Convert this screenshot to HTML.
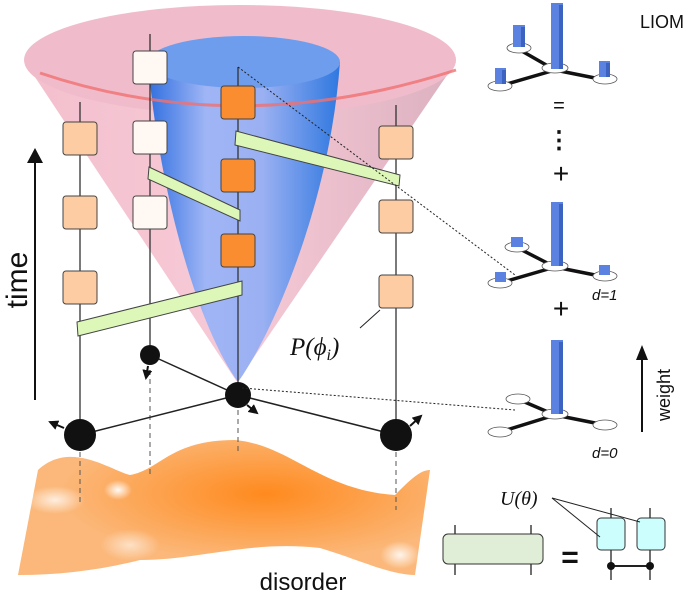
<!DOCTYPE html>
<html><head><meta charset="utf-8"><style>html,body{margin:0;padding:0;background:#fff}svg{display:block}</style></head>
<body>
<svg width="685" height="599" viewBox="0 0 685 599" xmlns="http://www.w3.org/2000/svg" font-family="Liberation Sans, sans-serif">
<defs>
<linearGradient id="bl" x1="0" x2="1" y1="0" y2="0"><stop offset="0" stop-color="#2f6fe0"/><stop offset="0.3" stop-color="#9fb5f5"/><stop offset="0.6" stop-color="#9ab0f2"/><stop offset="1" stop-color="#2f78e0"/></linearGradient>
<linearGradient id="pk" x1="0" x2="1"><stop offset="0" stop-color="#f2b8c8"/><stop offset="0.5" stop-color="#f6c4d2"/><stop offset="1" stop-color="#d8a8b8"/></linearGradient>
<radialGradient id="or1" cx="0.6" cy="0.4" r="0.5"><stop offset="0" stop-color="#ff8a1e"/><stop offset="1" stop-color="#fbb87a"/></radialGradient>
<radialGradient id="wh"><stop offset="0" stop-color="#fff" stop-opacity="0.95"/><stop offset="1" stop-color="#fff" stop-opacity="0"/></radialGradient>
<marker id="ah" viewBox="0 0 10 10" refX="8" refY="5" markerWidth="5" markerHeight="5" orient="auto"><path d="M0,0L10,5L0,10z" fill="#111"/></marker>
</defs>
<path d="M25,62 L237,382 L456,62 Z" fill="url(#pk)" opacity="0.9"/>
<ellipse cx="240" cy="60" rx="216" ry="55" fill="#f0bccb"/>
<path d="M148,62 C160,200 200,330 238,382 C275,330 330,200 340,62 Z" fill="url(#bl)"/>
<ellipse cx="244" cy="62" rx="96" ry="26" fill="#6f9ded"/>
<path d="M40,73 Q240,140 456,70" stroke="#f07070" stroke-width="3" fill="none" opacity="0.8"/>
<path d="M38,470 C70,440 110,470 130,475 C160,470 170,440 235,440 C290,445 320,490 395,495 C410,480 420,470 430,470 L415,575 C390,575 360,560 320,548 C250,540 200,560 140,560 C100,570 60,575 18,575 Z" fill="url(#or1)"/>
<ellipse cx="55" cy="500" rx="30" ry="14" fill="url(#wh)" opacity="0.8"/>
<ellipse cx="118" cy="490" rx="14" ry="10" fill="url(#wh)"/>
<ellipse cx="130" cy="545" rx="30" ry="16" fill="url(#wh)" opacity="0.6"/>
<ellipse cx="300" cy="555" rx="25" ry="10" fill="url(#wh)" opacity="0.5"/>
<ellipse cx="400" cy="555" rx="20" ry="14" fill="url(#wh)" opacity="0.9"/>
<text x="303" y="590" font-size="24" text-anchor="middle" fill="#111">disorder</text>
<g stroke="#555" stroke-dasharray="5,4" stroke-width="1"><line x1="80" y1="452" x2="80" y2="505"/><line x1="150" y1="370" x2="150" y2="475"/><line x1="238" y1="410" x2="238" y2="455"/><line x1="396" y1="452" x2="396" y2="510"/></g>
<g stroke="#333" stroke-width="1.3"><line x1="80" y1="102" x2="80" y2="420"/><line x1="150" y1="34" x2="150" y2="345"/><line x1="238" y1="67" x2="238" y2="390"/><line x1="396" y1="105" x2="396" y2="420"/></g>
<g stroke="#444" stroke-width="1">
<rect x="63" y="122" width="34" height="33" rx="3" fill="#fdcca3"/><rect x="63" y="196" width="34" height="33" rx="3" fill="#fdcca3"/><rect x="63" y="271" width="34" height="33" rx="3" fill="#fdcca3"/>
<rect x="133" y="51" width="34" height="33" rx="3" fill="#fff8f3"/><rect x="133" y="121" width="34" height="33" rx="3" fill="#fff8f3"/><rect x="133" y="196" width="34" height="33" rx="3" fill="#fff8f3"/>
<rect x="221" y="86" width="34" height="33" rx="3" fill="#f98d30"/><rect x="221" y="159" width="34" height="33" rx="3" fill="#f98d30"/><rect x="221" y="234" width="34" height="33" rx="3" fill="#f98d30"/>
<rect x="379" y="126" width="34" height="33" rx="3" fill="#fdcca3"/><rect x="379" y="200" width="34" height="33" rx="3" fill="#fdcca3"/><rect x="379" y="275" width="34" height="33" rx="3" fill="#fdcca3"/>
<path d="M236,131 L400,175 L399,186 L235,145 Z" fill="#ddf7b8"/>
<path d="M149,167 L240,210 L240,221 L148,179 Z" fill="#ddf7b8"/>
<path d="M77,322 L242,281 L242,295 L78,336 Z" fill="#ddf7b8"/>
</g>
<g stroke="#222" stroke-width="1.5"><line x1="150" y1="355" x2="238" y2="395"/><line x1="80" y1="435" x2="238" y2="395"/><line x1="238" y1="395" x2="396" y2="435"/></g>
<circle cx="80" cy="435" r="16" fill="#111"/><circle cx="150" cy="355" r="10" fill="#111"/><circle cx="238" cy="395" r="13" fill="#111"/><circle cx="396" cy="435" r="16" fill="#111"/>
<g stroke="#111" stroke-width="2" marker-end="url(#ah)"><line x1="64" y1="428" x2="50" y2="422"/><line x1="148" y1="366" x2="146" y2="378"/><line x1="247" y1="405" x2="257" y2="413"/><line x1="410" y1="426" x2="421" y2="416"/></g>
<g stroke="#222" stroke-dasharray="2,2" stroke-width="1" fill="none"><line x1="238" y1="67" x2="515" y2="275"/><line x1="242" y1="388" x2="515" y2="410"/></g>
<line x1="35" y1="400" x2="35" y2="162" stroke="#111" stroke-width="2"/><path d="M27,163 L35,148 L43,163 Z" fill="#111"/>
<text transform="translate(27,280) rotate(-90)" font-size="30" text-anchor="middle" fill="#111">time</text>
<text x="290" y="355" font-family="Liberation Serif, serif" font-style="italic" font-size="25" fill="#111">P(ϕ<tspan font-size="16" dy="5">i</tspan><tspan dy="-5">)</tspan></text>
<line x1="360" y1="328" x2="380" y2="310" stroke="#222"/>
<g stroke="#111" stroke-width="3.5"><line x1="555" y1="70" x2="500" y2="86"/><line x1="555" y1="70" x2="520" y2="50"/><line x1="555" y1="70" x2="605" y2="80"/></g>
<g stroke="#555" stroke-width="0.8" fill="#fff">
<ellipse cx="555" cy="68" rx="13" ry="5"/><ellipse cx="500" cy="86" rx="12" ry="5"/><ellipse cx="519" cy="48" rx="12" ry="5"/><ellipse cx="605" cy="79" rx="12" ry="5"/></g>
<g fill="#5b82e0"><rect x="551" y="3" width="12" height="66"/><rect x="513" y="25" width="12" height="22"/><rect x="495" y="68" width="11" height="16"/><rect x="599" y="61" width="11" height="16"/></g>
<g fill="#3d63c0"><rect x="559" y="5" width="4" height="64"/><rect x="521" y="27" width="4" height="20"/><rect x="502" y="70" width="4" height="14"/><rect x="606" y="63" width="4" height="14"/></g>
<text x="640" y="28" font-size="18" fill="#111">LIOM</text>
<text x="559" y="112" font-size="20" text-anchor="middle" fill="#111">=</text>
<text x="559" y="148" font-size="24" text-anchor="middle" font-weight="bold" fill="#111">⋮</text>
<text x="561" y="183" font-size="28" text-anchor="middle" fill="#111">+</text>
<g stroke="#111" stroke-width="3.5"><line x1="555" y1="267" x2="500" y2="283"/><line x1="555" y1="267" x2="518" y2="248"/><line x1="555" y1="267" x2="605" y2="277"/></g>
<g stroke="#555" stroke-width="0.8" fill="#fff"><ellipse cx="555" cy="266" rx="13" ry="5"/><ellipse cx="500" cy="283" rx="12" ry="5"/><ellipse cx="517" cy="247" rx="12" ry="5"/><ellipse cx="605" cy="276" rx="12" ry="5"/></g>
<g fill="#5b82e0"><rect x="551" y="202" width="12" height="64"/><rect x="511" y="237" width="12" height="10"/><rect x="495" y="272" width="11" height="10"/><rect x="599" y="265" width="11" height="10"/></g>
<g fill="#3d63c0"><rect x="559" y="204" width="4" height="62"/></g>
<text x="592" y="300" font-size="15" font-style="italic" fill="#111">d=1</text>
<text x="561" y="318" font-size="28" text-anchor="middle" fill="#111">+</text>
<g stroke="#111" stroke-width="3.5"><line x1="555" y1="415" x2="500" y2="432"/><line x1="555" y1="415" x2="520" y2="400"/><line x1="555" y1="415" x2="605" y2="425"/></g>
<g stroke="#555" stroke-width="0.8" fill="#fff"><ellipse cx="555" cy="414" rx="13" ry="5"/><ellipse cx="500" cy="432" rx="12" ry="5"/><ellipse cx="518" cy="399" rx="12" ry="5"/><ellipse cx="605" cy="425" rx="12" ry="5"/></g>
<rect x="551" y="340" width="12" height="74" fill="#5b82e0"/><rect x="559" y="342" width="4" height="72" fill="#3d63c0"/>
<text x="592" y="458" font-size="15" font-style="italic" fill="#111">d=0</text>
<line x1="642" y1="432" x2="642" y2="358" stroke="#111" stroke-width="2"/><path d="M636,360 L642,345 L648,360 Z" fill="#111"/>
<text transform="translate(670,395) rotate(-90)" font-size="18" text-anchor="middle" fill="#111">weight</text>
<g stroke="#222" stroke-width="1.3"><line x1="455" y1="525" x2="455" y2="575"/><line x1="531" y1="525" x2="531" y2="575"/>
<line x1="611" y1="508" x2="611" y2="580"/><line x1="650" y1="508" x2="650" y2="580"/><line x1="611" y1="566" x2="650" y2="566" stroke-width="2"/></g>
<rect x="443" y="534" width="100" height="30" rx="5" fill="#e0eed8" stroke="#333"/>
<text x="570" y="567" font-size="30" text-anchor="middle" font-weight="bold" fill="#111">=</text>
<rect x="597" y="518" width="28" height="32" rx="4" fill="#ccfefe" stroke="#333"/><rect x="637" y="518" width="28" height="32" rx="4" fill="#ccfefe" stroke="#333"/>
<circle cx="611" cy="566" r="4" fill="#111"/><circle cx="650" cy="566" r="4" fill="#111"/>
<g stroke="#222" stroke-width="1"><line x1="552" y1="498" x2="600" y2="537"/><line x1="552" y1="498" x2="640" y2="522"/></g>
<text x="500" y="505" font-family="Liberation Serif, serif" font-style="italic" font-size="20" fill="#111">U(θ)</text>
</svg>
</body></html>
